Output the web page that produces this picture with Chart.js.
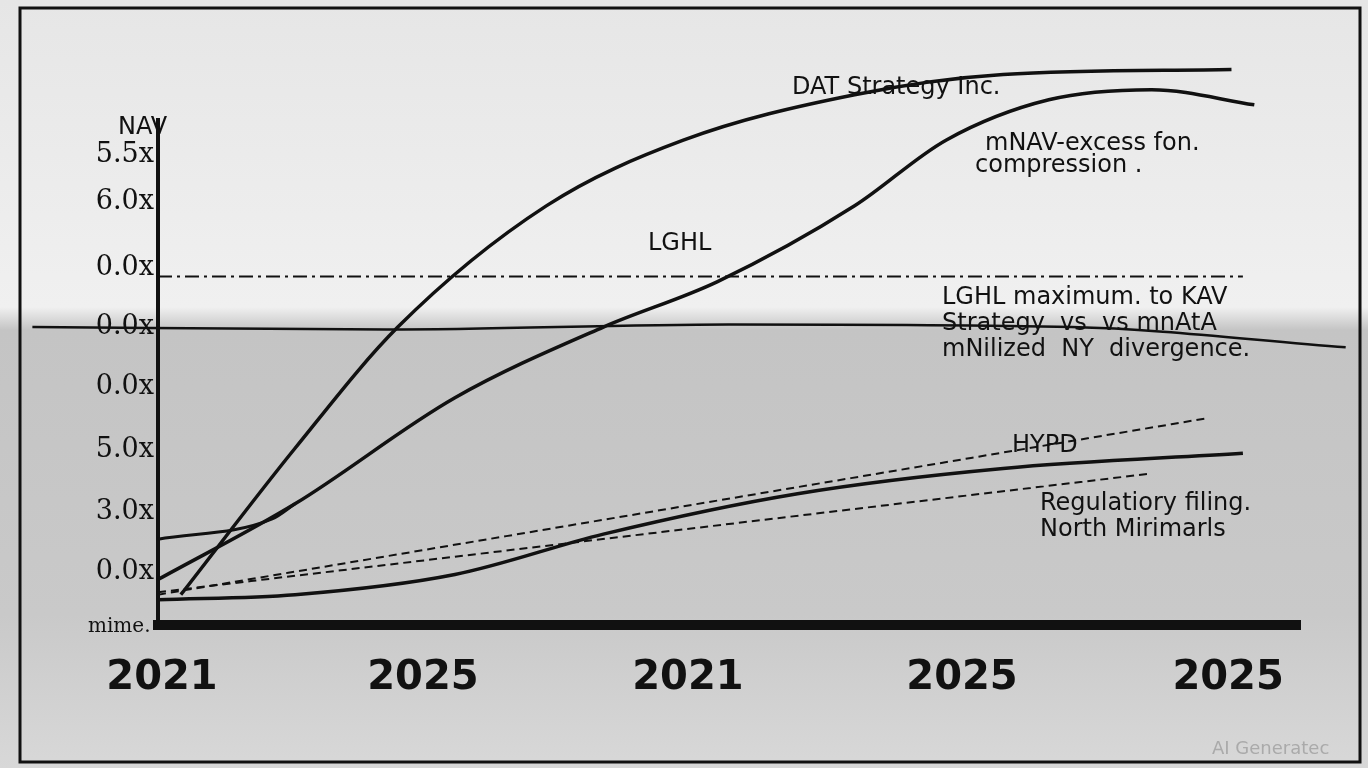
<!DOCTYPE html>
<html>
<head>
<meta charset="utf-8">
<script src="https://cdn.jsdelivr.net/npm/chart.js@4"></script>
<style>
  html, body { margin: 0; padding: 0; background: #fff; }
  #wrap { position: relative; width: 1368px; height: 768px; }
  canvas { position: absolute; left: 0; top: 0; }
</style>
</head>
<body>
<div id="wrap"><canvas id="grafico" width="1368" height="768"></canvas></div>
<script>
// posiciones en x: 0..100, valores de NAV en y: 0..10
const datStrategy = [[2,0.6],[12,3.5],[21,5.9],[34,8.3],[46,9.6],[61,10.5],[74,10.9],[94,11.0]];
const lghl = [[0,0.9],[12,2.4],[26,4.5],[39,5.9],[49,6.8],[61,8.3],[69,9.6],[78,10.4],[87,10.6],[96,10.3]];
const lghlInicio = [[0,1.7],[10,2.1],[12,2.4]];
const hypd = [[0,0.5],[12,0.6],[26,1.0],[39,1.8],[56,2.6],[74,3.1],[95,3.4]];
const tendenciaAlta = [[0,0.6],[92,4.1]];
const tendenciaBaja = [[0,0.65],[87,3.0]];
const maximoLghl = [[0,6.9],[95,6.9]];
const horizonte = [[-11,5.9],[20,5.85],[50,5.95],[80,5.9],[104,5.5]];

const yTicks = [9.31, 8.38, 7.07, 5.90, 4.71, 3.47, 2.24, 1.05];
const yLabels = ['5.5x', '6.0x', '0.0x', '0.0x', '0.0x', '5.0x', '3.0x', '0.0x'];
const xTicks = [0.35, 23.2, 46.4, 70.4, 93.7];
const xLabels = ['2021', '2025', '2021', '2025', '2025'];

const pts = arr => arr.map(p => ({ x: p[0], y: p[1] }));
const linea = (label, data, width, dash) => ({
  label, data: pts(data), borderColor: '#111', borderWidth: width,
  borderDash: dash || [], pointRadius: 0, cubicInterpolationMode: 'monotone',
  fill: false, clip: false
});

const fondo = {
  id: 'fondo',
  beforeDraw(chart) {
    const c = chart.ctx;
    const g = c.createLinearGradient(0, 0, 0, 768);
    g.addColorStop(0, '#e6e6e6');
    g.addColorStop(0.4, '#f0f0f0');
    g.addColorStop(0.43, '#c4c4c4');
    g.addColorStop(0.8, '#c9c9c9');
    g.addColorStop(1, '#d8d8d8');
    c.save();
    c.fillStyle = g;
    c.fillRect(0, 0, 1368, 768);
    c.strokeStyle = '#111';
    c.lineWidth = 3;
    c.strokeRect(20, 8, 1340, 754);
    c.restore();
  },
  afterDraw(chart) {
    const c = chart.ctx;
    c.save();
    c.fillStyle = '#111';
    c.font = '24px "DejaVu Sans"';
    c.fillText('NAV', 118, 134);
    c.font = '20px "DejaVu Serif"';
    c.fillText('mime.', 88, 632);
    c.font = '24px "DejaVu Sans"';
    c.fillText('DAT Strategy Inc.', 792, 94);
    c.fillText('mNAV-excess fon.', 985, 150);
    c.fillText('compression .', 975, 172);
    c.fillText('LGHL', 648, 250);
    c.fillText('LGHL maximum. to KAV', 942, 304);
    c.fillText('Strategy  vs  vs mnAtA', 942, 330);
    c.fillText('mNilized  NY  divergence.', 942, 356);
    c.fillText('HYPD', 1012, 452);
    c.fillText('Regulatiory filing.', 1040, 510);
    c.fillText('North Mirimarls', 1040, 536);
    c.font = '18px "DejaVu Sans"';
    c.fillStyle = '#aaa';
    c.fillText('AI Generatec', 1212, 754);
    c.restore();
  }
};

new Chart(document.getElementById('grafico'), {
  type: 'line',
  data: {
    datasets: [
      linea('DAT Strategy Inc.', datStrategy, 3.5),
      linea('LGHL', lghl, 3.5),
      linea('LGHL inicio', lghlInicio, 3),
      linea('HYPD', hypd, 3.5),
      linea('Tendencia alta', tendenciaAlta, 2, [8, 5]),
      linea('Tendencia baja', tendenciaBaja, 2, [8, 5]),
      linea('LGHL maximum', maximoLghl, 2, [14, 5, 3, 5]),
      linea('Horizonte', horizonte, 2.5)
    ]
  },
  options: {
    responsive: false,
    animation: false,
    layout: { padding: { left: 0, top: 120, right: 68, bottom: 0 } },
    plugins: { legend: { display: false }, tooltip: { enabled: false } },
    scales: {
      x: {
        type: 'linear', min: 0, max: 100,
        afterBuildTicks: ax => { ax.ticks = xTicks.map(v => ({ value: v })); },
        afterFit: ax => { ax.height = 143; },
        grid: { display: false, drawTicks: false },
        border: { color: '#111', width: 10 },
        ticks: {
          padding: 30, color: '#111', maxRotation: 0,
          font: { family: 'DejaVu Sans', size: 40, weight: 'bold' },
          callback: (v, i) => xLabels[i]
        }
      },
      y: {
        type: 'linear', min: 0, max: 10,
        afterBuildTicks: ax => { ax.ticks = yTicks.map(v => ({ value: v })); },
        afterFit: ax => { ax.width = 158; },
        grid: { display: false, drawTicks: false },
        border: { color: '#111', width: 4 },
        ticks: {
          padding: 4, color: '#111',
          font: { family: 'DejaVu Serif', size: 27 },
          callback: (v, i) => yLabels[i]
        }
      }
    }
  },
  plugins: [fondo]
});
</script>
</body>
</html>
